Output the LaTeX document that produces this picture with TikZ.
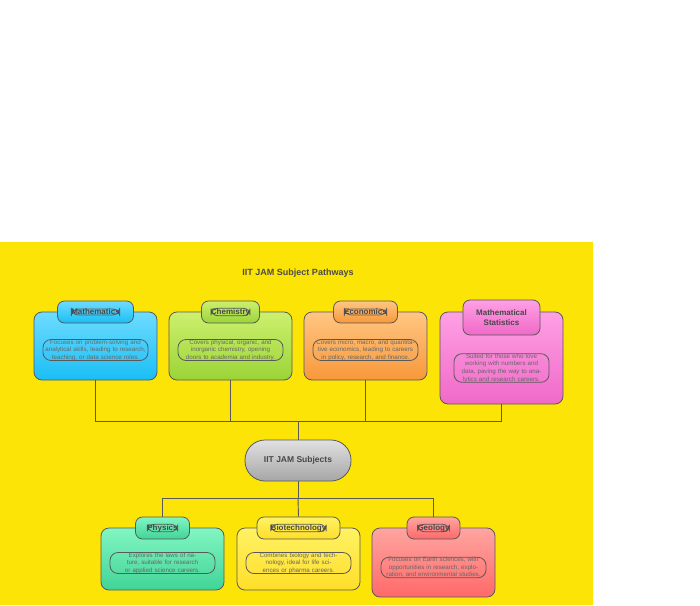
\documentclass[tikz,border=0pt]{standalone}
\usepackage{fontspec}
\setmainfont{Liberation Sans}
\definecolor{bgy}{RGB}{252,228,6}
\definecolor{maT}{RGB}{110,220,255}\definecolor{maB}{RGB}{25,190,245}
\definecolor{chT}{RGB}{205,240,110}\definecolor{chB}{RGB}{155,212,55}
\definecolor{ecT}{RGB}{255,198,130}\definecolor{ecB}{RGB}{248,152,58}
\definecolor{msT}{RGB}{255,160,228}\definecolor{msB}{RGB}{240,105,200}
\definecolor{phT}{RGB}{130,246,195}\definecolor{phB}{RGB}{65,212,150}
\definecolor{btT}{RGB}{255,242,100}\definecolor{btB}{RGB}{255,222,40}
\definecolor{geT}{RGB}{255,165,160}\definecolor{geB}{RGB}{255,105,105}
\begin{document}
\begin{tikzpicture}[x=1pt,y=-1pt,
  box/.style={draw=black!65,line width=0.8pt,rounded corners=8pt,text width=#1,align=center,font=\fontsize{6.2}{7.6}\selectfont,text=black!60,inner sep=0pt},
  pill/.style={draw=black!65,line width=0.8pt,rounded corners=7pt,font=\bfseries\fontsize{8}{9.5}\selectfont,text=black!72,align=center,inner sep=0pt},
  link/.style={draw=black!65,line width=0.9pt}]
\useasboundingbox (0,0) rectangle (700,605);
\fill[bgy] (0,242) rectangle (593,605);
\node[font=\bfseries\fontsize{9}{11}\selectfont,text=black!70] (title) at (298,273) {IIT JAM Subject Pathways};
\newcommand\mybox[9]{%
  \path[box=110pt,top color=#5,bottom color=#6] (#2,#3) rectangle (#2+123,#4);
  \node[box=105pt] (#1d) at (#2+61.5,{(#3+#4)/2+#9}) {#7};
  \node[pill,top color=#5,bottom color=#6,minimum width=#8,minimum height=22] (#1) at (#2+61.5,#3) {};
}
\mybox{ma}{34}{312}{380}{maT}{maB}{Focuses on problem-solving and analytical skills, leading to research, teaching, or data science roles.}{76}{4}
\node[pill] at (ma) {Mathematics};
\mybox{ch}{169}{312}{380}{chT}{chB}{Covers physical, organic, and inorganic chemistry, opening doors to academia and industry.}{58}{4}
\node[pill] at (ch) {Chemistry};
\mybox{ec}{304}{312}{380}{ecT}{ecB}{Covers micro, macro, and quantitative economics, leading to careers in policy, research, and finance.}{64}{4}
\node[pill] at (ec) {Economics};
\path[box=110pt,top color=msT,bottom color=msB] (440,312) rectangle (563,404);
\node[box=95pt] (msd) at (501.5,368) {Suited for those who love working with numbers and data, paving the way to analytics and research careers.};
\node[pill,top color=msT,bottom color=msB,minimum width=77,minimum height=35] (ms) at (501.5,317.5) {Mathematical\\Statistics};
\mybox{ph}{101}{528}{590}{phT}{phB}{Explores the laws of nature, suitable for research or applied science careers.}{54}{4}
\node[pill] at (ph) {Physics};
\mybox{bt}{237}{528}{590}{btT}{btB}{Combines biology and technology, ideal for life sciences or pharma careers.}{83}{4}
\node[pill] at (bt) {Biotechnology};
\mybox{ge}{372}{528}{597}{geT}{geB}{Focuses on Earth sciences, with opportunities in research, exploration, and environmental studies.}{53}{5}
\node[pill] at (ge) {Geology};
\node[pill,rounded corners=20pt,minimum width=106,minimum height=41,top color=black!12,bottom color=black!35,font=\bfseries\fontsize{8.5}{10}\selectfont] (c) at (298,460.5) {IIT JAM Subjects};
\coordinate (j) at (298,421);
\coordinate (k) at (298,498);
\draw[link] (95.5,380) |- (j) -- (c.north);
\draw[link] (230.5,380) |- (j);
\draw[link] (365.5,380) |- (j);
\draw[link] (501.5,404) |- (j);
\draw[link] (c.south) -- (k);
\draw[link] (k) -| (ph.north);
\draw[link] (k) -| (ge.north);
\draw[link] (k) -- (bt.north);
\end{tikzpicture}
\end{document}
